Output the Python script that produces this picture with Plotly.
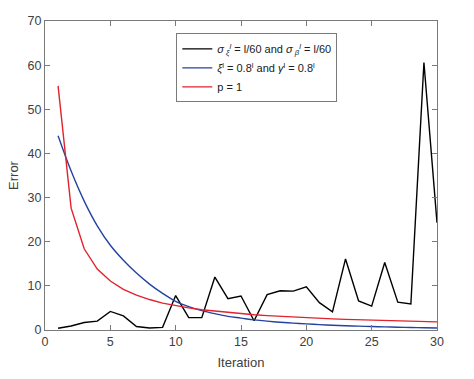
import plotly.graph_objects as go

iterations = list(range(1, 31))
sigma_err = [0.4, 0.9, 1.7, 2.0, 4.2, 3.2, 0.8, 0.45, 0.6, 7.8,
             2.8, 2.8, 12.0, 7.1, 7.7, 2.1, 8.0, 8.9, 8.8, 9.8,
             6.2, 4.1, 16.1, 6.6, 5.4, 15.3, 6.3, 5.9, 60.6, 24.3]
xi_err = [44.0, 36.0, 29.2, 23.6, 19.2, 15.8, 12.9, 10.4, 8.3, 6.5,
          5.3, 4.4, 3.7, 3.1, 2.7, 2.3, 2.0, 1.75, 1.55, 1.38,
          1.22, 1.08, 0.97, 0.87, 0.78, 0.7, 0.63, 0.57, 0.52, 0.47]
p_err = [55.3, 27.6, 18.4, 13.8, 11.1, 9.2, 7.9, 6.9, 6.1, 5.5,
         5.0, 4.6, 4.3, 3.95, 3.7, 3.45, 3.25, 3.07, 2.9, 2.77,
         2.63, 2.51, 2.4, 2.3, 2.21, 2.13, 2.05, 1.98, 1.91, 1.84]

x_ticks = [0, 5, 10, 15, 20, 25, 30]
y_ticks = [0, 10, 20, 30, 40, 50, 60, 70]

fig = go.Figure()
fig.add_trace(go.Scatter(
    x=iterations, y=sigma_err, mode="lines",
    line=dict(color="#000000", width=1.4),
    name="<i>σ</i><sub> <i>ξ</i></sub><sup><i>l</i></sup> = l/60 and <i>σ</i><sub> <i>β</i></sub><sup><i>l</i></sup> = l/60"))
fig.add_trace(go.Scatter(
    x=iterations, y=xi_err, mode="lines", line_shape="spline",
    line=dict(color="#2443a0", width=1.4),
    name="<i>ξ</i><sup>l</sup> = 0.8<sup>l</sup> and <i>γ</i><sup>l</sup> = 0.8<sup>l</sup>"))
fig.add_trace(go.Scatter(
    x=iterations, y=p_err, mode="lines",
    line=dict(color="#e2222c", width=1.4),
    name="p = 1"))

axis_common = dict(
    showline=True, linecolor="#7a7a7a", linewidth=1,
    ticks="inside", ticklen=5, tickcolor="#7a7a7a", mirror="allticks",
    showgrid=False, zeroline=False,
    tickfont=dict(size=12.5, color="#404040"),
)

fig.update_layout(
    width=474, height=379,
    margin=dict(l=42, r=37, t=21, b=47),
    paper_bgcolor="white", plot_bgcolor="white",
    font=dict(family="Liberation Sans, Arial, sans-serif", color="#404040"),
    xaxis=dict(range=[0, 30], tickvals=x_ticks,
               title=dict(text="Iteration", font=dict(size=13, color="#404040"), standoff=9),
               **axis_common),
    yaxis=dict(range=[0, 70], tickvals=y_ticks,
               title=dict(text="Error", font=dict(size=13, color="#404040"), standoff=6),
               **axis_common),
    legend=dict(x=0.335, y=0.96, xanchor="left", yanchor="top",
                bgcolor="white", bordercolor="#7a7a7a", borderwidth=1,
                font=dict(size=11, color="#202020"),
                tracegroupgap=0, itemwidth=30),
    showlegend=True,
)

fig.write_html("out.html")
